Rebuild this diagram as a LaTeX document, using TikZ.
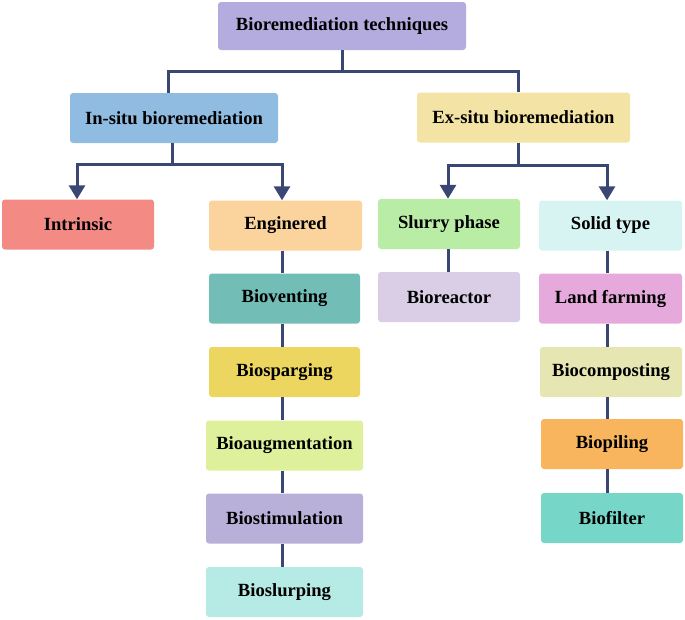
\documentclass[tikz,border=0pt]{standalone}
\usepackage{fontspec}
\setmainfont{Liberation Serif}
\usetikzlibrary{calc}
\usetikzlibrary{arrows.meta}

\begin{document}
\begin{tikzpicture}[x=1pt, y=-1pt]
    \definecolor{navy}{RGB}{58, 70, 115}
    \definecolor{lavender}{HTML}{B4ABDF}
    \definecolor{skyblue}{HTML}{8FBCE0}
    \definecolor{sand}{HTML}{F3E4A6}
    \definecolor{salmon}{HTML}{F38A84}
    \definecolor{peach}{HTML}{FBD39D}
    \definecolor{lightgreen}{HTML}{B9EDA6}
    \definecolor{ice}{HTML}{D7F4F2}
    \definecolor{lilac}{HTML}{D9CEE5}
    \definecolor{pink}{HTML}{E6A9DC}
    \definecolor{beige}{HTML}{E6E6B2}
    \definecolor{orange}{HTML}{F9B55E}
    \definecolor{turquoise}{HTML}{76D7C8}
    \definecolor{teal}{HTML}{72BDB6}
    \definecolor{mustard}{HTML}{EDD660}
    \definecolor{lime}{HTML}{DEF09B}
    \definecolor{violet}{HTML}{B8B0D8}
    \definecolor{aqua}{HTML}{B5EAE5}

    \tikzstyle{box}=[rounded corners=3pt, minimum height=50pt, inner sep=0pt, font=\fontsize{18.6}{20}\selectfont\bfseries]
    \tikzstyle{link}=[line width=3pt, draw=navy]
    \tikzstyle{arr}=[link, -{Triangle[width=16pt, length=14pt]}]

    \useasboundingbox (0,0) rectangle (685,619);

    % columns of the vertical connectors
    \coordinate (col_intr) at (77,0);
    \coordinate (col_a) at (282,0);
    \coordinate (col_b) at (448,0);
    \coordinate (col_c) at (607,0);

    \node[box, fill=lavender, minimum width=248pt, minimum height=48pt] (bio_tech) at (342,26) {Bioremediation techniques};

    \node[box, fill=skyblue, minimum width=208pt] (in_situ) at (174,118) {In-situ bioremediation};
    \node[box, fill=sand, minimum width=213pt] (ex_situ) at (523.5,117.5) {Ex-situ bioremediation};

    \node[box, fill=salmon, minimum width=152pt] (intrinsic) at (78,224.5) {Intrinsic};
    \node[box, fill=peach, minimum width=153pt] (engineered) at (285.5,225.5) {Enginered};
    \node[box, fill=teal, minimum width=151pt] (bioventing) at (284.5,298.5) {Bioventing};
    \node[box, fill=mustard, minimum width=151pt] (biosparging) at (284.5,372) {Biosparging};
    \node[box, fill=lime, minimum width=157pt] (bioaugment) at (284.5,445.5) {Bioaugmentation};
    \node[box, fill=violet, minimum width=157pt] (biostim) at (284.5,518.5) {Biostimulation};
    \node[box, fill=aqua, minimum width=157pt] (bioslurp) at (284.5,592) {Bioslurping};

    \node[box, fill=lightgreen, minimum width=142pt] (slurry) at (449,224) {Slurry phase};
    \node[box, fill=lilac, minimum width=142pt] (bioreactor) at (449,297) {Bioreactor};

    \node[box, fill=ice, minimum width=143pt] (solid) at (610.5,225.5) {Solid type};
    \node[box, fill=pink, minimum width=143pt] (landfarm) at (610.5,298.5) {Land farming};
    \node[box, fill=beige, minimum width=142pt] (biocompost) at (611,372) {Biocomposting};
    \node[box, fill=orange, minimum width=142pt] (biopiling) at (612,444) {Biopiling};
    \node[box, fill=turquoise, minimum width=142pt] (biofilter) at (612,518) {Biofilter};

    % first level
    \coordinate (tech_split) at (342,71);
    \coordinate (in_situ_in) at (168,0);
    \coordinate (ex_situ_in) at (518,0);
    \draw[link] (bio_tech) -- (tech_split);
    \draw[link] (tech_split) -| (in_situ.north -| in_situ_in);
    \draw[link] (tech_split) -| (ex_situ.north -| ex_situ_in);

    % in-situ branch
    \coordinate (in_split) at (172,164);
    \draw[link] (in_situ.south -| in_split) -- (in_split);
    \draw[arr] (in_split) -| (intrinsic.north -| col_intr);
    \draw[arr] (in_split) -| (engineered.north -| col_a);

    % ex-situ branch
    \coordinate (ex_split) at (518,165);
    \draw[link] (ex_situ.south -| ex_split) -- (ex_split);
    \draw[arr] (ex_split) -| (slurry.north -| col_b);
    \draw[arr] (ex_split) -| (solid.north -| col_c);

    % engineered chain
    \draw[link] (engineered.south -| col_a) -- (bioventing.north -| col_a);
    \draw[link] (bioventing.south -| col_a) -- (biosparging.north -| col_a);
    \draw[link] (biosparging.south -| col_a) -- (bioaugment.north -| col_a);
    \draw[link] (bioaugment.south -| col_a) -- (biostim.north -| col_a);
    \draw[link] (biostim.south -| col_a) -- (bioslurp.north -| col_a);

    % slurry chain
    \draw[link] (slurry.south -| col_b) -- (bioreactor.north -| col_b);

    % solid chain
    \draw[link] (solid.south -| col_c) -- (landfarm.north -| col_c);
    \draw[link] (landfarm.south -| col_c) -- (biocompost.north -| col_c);
    \draw[link] (biocompost.south -| col_c) -- (biopiling.north -| col_c);
    \draw[link] (biopiling.south -| col_c) -- (biofilter.north -| col_c);
\end{tikzpicture}
\end{document}
